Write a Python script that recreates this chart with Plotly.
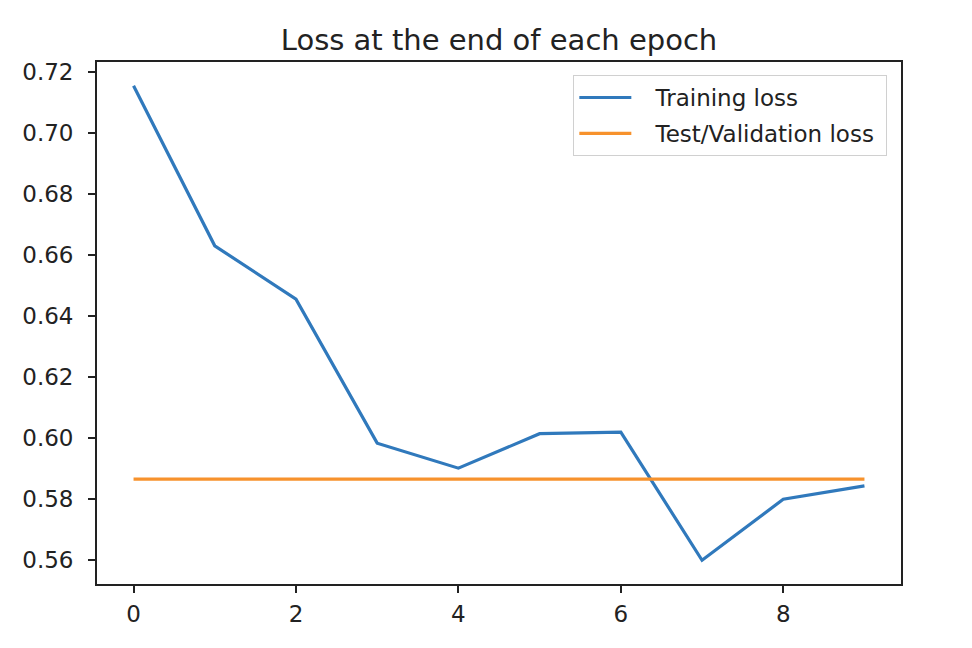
import plotly.graph_objects as go

# loss per epoch
epochs = [0, 1, 2, 3, 4, 5, 6, 7, 8, 9]
train_loss = [0.7156, 0.6631, 0.6456, 0.5984, 0.5902, 0.6015, 0.6020, 0.5600, 0.5800, 0.5844]
val_loss = [0.5866] * len(epochs)

lo = min(train_loss + val_loss)
hi = max(train_loss + val_loss)
pad = (hi - lo) * 0.05

axis_style = {
    'showline': True,
    'linecolor': '#222222',
    'linewidth': 1.8,
    'mirror': True,
    'ticks': 'outside',
    'ticklen': 7,
    'tickwidth': 1.8,
    'tickcolor': '#222222',
    'showgrid': False,
    'zeroline': False,
    'tickfont': {'size': 23, 'color': '#222222'},
}

# the page body adds 8px, so left/top margins are 8px smaller
layout = {
    'width': 972,
    'height': 648,
    'plot_bgcolor': '#ffffff',
    'paper_bgcolor': '#ffffff',
    'font': {'family': 'DejaVu Sans', 'color': '#222222'},
    'margin': {'l': 89, 'r': 79, 't': 54, 'b': 72},
    'title': {
        'text': 'Loss at the end of each epoch',
        'font': {'size': 29, 'color': '#222222'},
        'x': 0.5, 'xref': 'paper', 'xanchor': 'center',
        'y': 1 - 32 / 648, 'yanchor': 'middle',
    },
    'xaxis': dict(axis_style, range=[-0.45, 9.45], dtick=2, tick0=0, ticklabelstandoff=1),
    'yaxis': dict(axis_style, range=[lo - pad, hi + pad], dtick=0.02, tickformat='.2f',
                  ticklabelstandoff=10),
    'legend': {
        'x': 0.983, 'y': 0.975, 'xanchor': 'right', 'yanchor': 'top',
        'bgcolor': 'rgba(255,255,255,0.8)',
        'bordercolor': '#d0d0d0', 'borderwidth': 1,
        'font': {'size': 23, 'color': '#222222'},
        'traceorder': 'grouped',
        'tracegroupgap': 3,
        'itemwidth': 52,
    },
}

fig = go.Figure(layout=layout)

gap = '\u00a0\u00a0\u2009'
fig.add_trace(go.Scatter(x=epochs, y=train_loss, mode='lines', name=gap + 'Training loss',
                         legendgroup='train',
                         line={'color': '#3079bc', 'width': 3.2}))
fig.add_trace(go.Scatter(x=epochs, y=val_loss, mode='lines', name=gap + 'Test/Validation loss\u00a0',
                         legendgroup='val',
                         line={'color': '#f7922c', 'width': 3.2}))

fig.write_html("out.html", config=dict(displayModeBar=False))
